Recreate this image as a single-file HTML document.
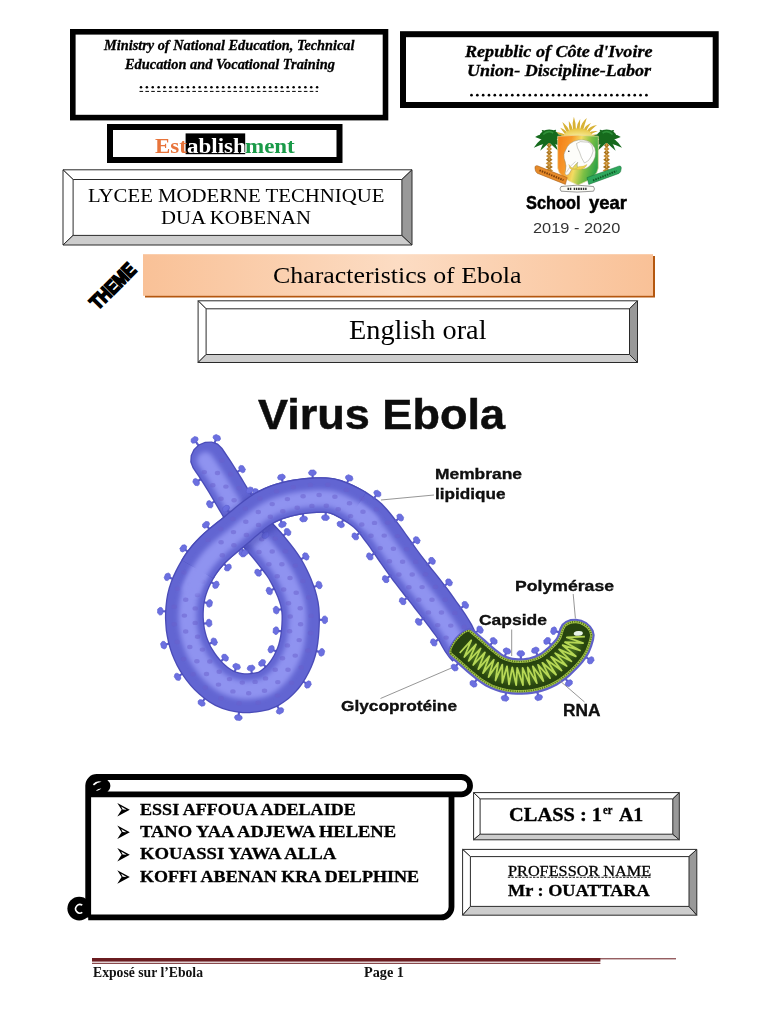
<!DOCTYPE html>
<html><head><meta charset="utf-8"><title>Characteristics of Ebola</title>
<style>
html,body{margin:0;padding:0;background:#fff}
#pg{position:relative;width:768px;height:1024px;overflow:hidden;background:#fff;font-family:"Liberation Serif",serif}
#pg svg{position:absolute;left:0;top:0}
.t{position:absolute;white-space:pre;transform-origin:0 0;display:block}
</style></head><body><div id="pg">
<svg width="768" height="1024" viewBox="0 0 768 1024">
<rect x="72.8" y="31.8" width="312.7" height="85.8" fill="#fff" stroke="#000" stroke-width="5.6"/>
<rect x="403" y="34.2" width="312.7" height="70.8" fill="#fff" stroke="#000" stroke-width="6"/>
<rect x="110" y="127" width="229.5" height="33" fill="#fff" stroke="#000" stroke-width="6"/>
<rect x="185.6" y="133.4" width="59.6" height="20.8" fill="#000"/>
<g fill="#000"><circle cx="141.00" cy="87.3" r="1.25"/><circle cx="146.87" cy="87.3" r="1.25"/><circle cx="152.74" cy="87.3" r="1.25"/><circle cx="158.61" cy="87.3" r="1.25"/><circle cx="164.48" cy="87.3" r="1.25"/><circle cx="170.35" cy="87.3" r="1.25"/><circle cx="176.22" cy="87.3" r="1.25"/><circle cx="182.09" cy="87.3" r="1.25"/><circle cx="187.96" cy="87.3" r="1.25"/><circle cx="193.83" cy="87.3" r="1.25"/><circle cx="199.70" cy="87.3" r="1.25"/><circle cx="205.57" cy="87.3" r="1.25"/><circle cx="211.44" cy="87.3" r="1.25"/><circle cx="217.31" cy="87.3" r="1.25"/><circle cx="223.18" cy="87.3" r="1.25"/><circle cx="229.05" cy="87.3" r="1.25"/><circle cx="234.92" cy="87.3" r="1.25"/><circle cx="240.79" cy="87.3" r="1.25"/><circle cx="246.66" cy="87.3" r="1.25"/><circle cx="252.53" cy="87.3" r="1.25"/><circle cx="258.40" cy="87.3" r="1.25"/><circle cx="264.27" cy="87.3" r="1.25"/><circle cx="270.14" cy="87.3" r="1.25"/><circle cx="276.01" cy="87.3" r="1.25"/><circle cx="281.88" cy="87.3" r="1.25"/><circle cx="287.75" cy="87.3" r="1.25"/><circle cx="293.62" cy="87.3" r="1.25"/><circle cx="299.49" cy="87.3" r="1.25"/><circle cx="305.36" cy="87.3" r="1.25"/><circle cx="311.23" cy="87.3" r="1.25"/><circle cx="317.10" cy="87.3" r="1.25"/></g><line x1="139.5" y1="91.4" x2="318" y2="91.4" stroke="#000" stroke-width="1" stroke-dasharray="3.6 2.27"/>
<g fill="#000"><circle cx="471.50" cy="95.2" r="1.35"/><circle cx="477.33" cy="95.2" r="1.35"/><circle cx="483.16" cy="95.2" r="1.35"/><circle cx="488.99" cy="95.2" r="1.35"/><circle cx="494.82" cy="95.2" r="1.35"/><circle cx="500.65" cy="95.2" r="1.35"/><circle cx="506.48" cy="95.2" r="1.35"/><circle cx="512.31" cy="95.2" r="1.35"/><circle cx="518.14" cy="95.2" r="1.35"/><circle cx="523.97" cy="95.2" r="1.35"/><circle cx="529.80" cy="95.2" r="1.35"/><circle cx="535.63" cy="95.2" r="1.35"/><circle cx="541.46" cy="95.2" r="1.35"/><circle cx="547.29" cy="95.2" r="1.35"/><circle cx="553.12" cy="95.2" r="1.35"/><circle cx="558.95" cy="95.2" r="1.35"/><circle cx="564.78" cy="95.2" r="1.35"/><circle cx="570.61" cy="95.2" r="1.35"/><circle cx="576.44" cy="95.2" r="1.35"/><circle cx="582.27" cy="95.2" r="1.35"/><circle cx="588.10" cy="95.2" r="1.35"/><circle cx="593.93" cy="95.2" r="1.35"/><circle cx="599.76" cy="95.2" r="1.35"/><circle cx="605.59" cy="95.2" r="1.35"/><circle cx="611.42" cy="95.2" r="1.35"/><circle cx="617.25" cy="95.2" r="1.35"/><circle cx="623.08" cy="95.2" r="1.35"/><circle cx="628.91" cy="95.2" r="1.35"/><circle cx="634.74" cy="95.2" r="1.35"/><circle cx="640.57" cy="95.2" r="1.35"/><circle cx="646.40" cy="95.2" r="1.35"/></g>
<g stroke="#2a2a2a" stroke-width="1" stroke-linejoin="miter"><polygon points="63,169.8 412,169.8 401.9,179.5 73.1,179.5" fill="#fff"/><polygon points="63,169.8 73.1,179.5 73.1,235.4 63,245" fill="#fff"/><polygon points="63,245 73.1,235.4 401.9,235.4 412,245" fill="#cdcdcd"/><polygon points="412,169.8 412,245 401.9,235.4 401.9,179.5" fill="#999"/></g>
<g stroke="#2a2a2a" stroke-width="1" stroke-linejoin="miter"><polygon points="198.1,300.8 637.5,300.8 629.5,308.8 206.1,308.8" fill="#fff"/><polygon points="198.1,300.8 206.1,308.8 206.1,354.5 198.1,362.5" fill="#fff"/><polygon points="198.1,362.5 206.1,354.5 629.5,354.5 637.5,362.5" fill="#cdcdcd"/><polygon points="637.5,300.8 637.5,362.5 629.5,354.5 629.5,308.8" fill="#999"/></g>
<g stroke="#2a2a2a" stroke-width="1" stroke-linejoin="miter"><polygon points="473.6,792.6 679.3,792.6 672.8,798.9 480.1,798.9" fill="#fff"/><polygon points="473.6,792.6 480.1,798.9 480.1,834.2 473.6,839.8" fill="#fff"/><polygon points="473.6,839.8 480.1,834.2 672.8,834.2 679.3,839.8" fill="#cdcdcd"/><polygon points="679.3,792.6 679.3,839.8 672.8,834.2 672.8,798.9" fill="#999"/></g>
<g stroke="#2a2a2a" stroke-width="1" stroke-linejoin="miter"><polygon points="462.6,849.4 696.8,849.4 689,856.6 470.4,856.6" fill="#fff"/><polygon points="462.6,849.4 470.4,856.6 470.4,906.4 462.6,915.2" fill="#fff"/><polygon points="462.6,915.2 470.4,906.4 689,906.4 696.8,915.2" fill="#cdcdcd"/><polygon points="696.8,849.4 696.8,915.2 689,906.4 689,856.6" fill="#999"/></g>
<defs><linearGradient id="og" x1="0" y1="0" x2="1" y2="0"><stop offset="0" stop-color="#f9c197"/><stop offset="0.5" stop-color="#fcdcc3"/><stop offset="1" stop-color="#f9c197"/></linearGradient></defs>
<rect x="145" y="256" width="510" height="41.5" fill="#b4570f"/><rect x="143" y="254.2" width="510" height="41.6" fill="url(#og)"/>
<g transform="translate(112.7,285.8) rotate(-45) scale(1.0,1.22)"><text x="0" y="5.7" text-anchor="middle" font-family="Liberation Sans" font-weight="bold" font-size="16" stroke="#000" stroke-width="1.5" stroke-linejoin="miter">THEME</text></g>
<g fill="none" stroke="#000" stroke-width="5.8" stroke-linejoin="round"><path d="M88.2,917.4 H441 A10.5,10.5 0 0 0 451.5,907 V794.3"/><path d="M88.2,917.4 V785.5 A8.6,8.6 0 0 1 96.8,777 H461.4 A8.65,8.65 0 0 1 461.4,794.3 H90"/></g>
<circle cx="79.2" cy="908.6" r="11.8" fill="#000"/><path d="M82.3,905.2 A4.3,4.3 0 1 0 82.3,912.4" fill="none" stroke="#fff" stroke-width="1.6"/>
<ellipse cx="100" cy="786" rx="10.4" ry="8.4" fill="#000"/><rect x="90" y="784" width="8" height="12" fill="#000"/><path d="M92.8,784.3 Q96.5,780.2 101.6,781.8 Q97,782.3 94,785.6Z" fill="#fff"/><path d="M96.3,790.2 Q98.6,788.4 101.4,788.6 Q99.4,790.6 96.6,791Z" fill="#fff"/>
<path d="M117.3,803.1 L129.8,809.8 L117.3,816.5 L121.6,809.8 Z" fill="#000"/><path d="M121.2,806.6 L126.6,809.8 L122.6,809.6Z" fill="#fff"/>
<path d="M117.3,825.5 L129.8,832.2 L117.3,838.9 L121.6,832.2 Z" fill="#000"/><path d="M121.2,829 L126.6,832.2 L122.6,832Z" fill="#fff"/>
<path d="M117.3,848 L129.8,854.7 L117.3,861.4 L121.6,854.7 Z" fill="#000"/><path d="M121.2,851.5 L126.6,854.7 L122.6,854.5Z" fill="#fff"/>
<path d="M117.3,870.3 L129.8,877 L117.3,883.7 L121.6,877 Z" fill="#000"/><path d="M121.2,873.8 L126.6,877 L122.6,876.8Z" fill="#fff"/>
<line x1="507.8" y1="877.3" x2="651.5" y2="877.3" stroke="#000" stroke-width="0.9" stroke-dasharray="2.4 1.2"/>
<rect x="92" y="958" width="508.4" height="3.6" fill="#6a1c20"/><rect x="92" y="962.8" width="508.4" height="1" fill="#6a1c20"/><rect x="600" y="958.3" width="76" height="1" fill="#6a1c20"/>
<defs><filter id="bl" x="-10%" y="-10%" width="120%" height="120%"><feGaussianBlur stdDeviation="2.6"/></filter><g id="sp"><rect x="-1.1" y="-2" width="2.2" height="6" fill="#5a5ccc"/><path d="M-3.5,3.8 L-3.9,5.8 L-2,8 L2,8 L3.9,5.8 L3.5,3.8 L1.7,2.7 L-1.7,2.7Z" fill="#6b6fe0" stroke="#5a5fd0" stroke-width="0.6"/></g><ellipse id="dt" rx="2.7" ry="2.2" fill="#6a60cc" opacity="0.5"/></defs>
<use href="#sp" transform="translate(200.6 479.3) rotate(57)"/><use href="#sp" transform="translate(214.3 501.6) rotate(59)"/><use href="#sp" transform="translate(228.0 525.3) rotate(58)"/><use href="#sp" transform="translate(246.1 550.0) rotate(47)"/><use href="#sp" transform="translate(262.2 569.5) rotate(52)"/><use href="#sp" transform="translate(274.1 588.8) rotate(65)"/><use href="#sp" transform="translate(281.4 609.3) rotate(81)"/><use href="#sp" transform="translate(281.2 631.2) rotate(-264)"/><use href="#sp" transform="translate(276.0 651.3) rotate(-246)"/><use href="#sp" transform="translate(265.6 666.8) rotate(-222)"/><use href="#sp" transform="translate(251.8 673.3) rotate(-188)"/><use href="#sp" transform="translate(234.8 671.5) rotate(-160)"/><use href="#sp" transform="translate(221.1 661.1) rotate(-131)"/><use href="#sp" transform="translate(209.3 643.8) rotate(-114)"/><use href="#sp" transform="translate(203.8 623.6) rotate(-96)"/><use href="#sp" transform="translate(204.3 602.4) rotate(-79)"/><use href="#sp" transform="translate(211.3 582.3) rotate(-61)"/><use href="#sp" transform="translate(224.1 564.0) rotate(-47)"/><use href="#sp" transform="translate(237.5 471.8) rotate(-122)"/><use href="#sp" transform="translate(251.6 494.9) rotate(-121)"/><use href="#sp" transform="translate(265.5 515.5) rotate(-128)"/><use href="#sp" transform="translate(283.5 535.3) rotate(-129)"/><use href="#sp" transform="translate(301.3 559.1) rotate(-121)"/><use href="#sp" transform="translate(314.1 586.8) rotate(-110)"/><use href="#sp" transform="translate(319.5 619.8) rotate(-90)"/><use href="#sp" transform="translate(316.5 651.1) rotate(-76)"/><use href="#sp" transform="translate(303.5 681.7) rotate(-57)"/><use href="#sp" transform="translate(277.4 706.3) rotate(-30)"/><use href="#sp" transform="translate(239.0 712.4) rotate(7)"/><use href="#sp" transform="translate(204.7 698.7) rotate(37)"/><use href="#sp" transform="translate(182.0 674.0) rotate(57)"/><use href="#sp" transform="translate(168.8 643.7) rotate(75)"/><use href="#sp" transform="translate(165.6 611.4) rotate(-268)"/><use href="#sp" transform="translate(172.3 578.8) rotate(-248)"/><use href="#sp" transform="translate(187.6 551.4) rotate(-234)"/><use href="#sp" transform="translate(209.3 528.8) rotate(-220)"/>
<use href="#sp" transform="translate(197.6 444.2) rotate(-216)"/><use href="#sp" transform="translate(214.6 442.6) rotate(-155)"/>
<path d="M192.5 468.0 195.3 472.2 198.1 476.3 200.8 480.4 203.4 484.5 205.9 488.4 208.4 492.5 210.9 496.7 213.4 501.0 215.9 505.3 218.5 509.7 221.1 514.1 223.5 518.3 226.0 522.7 228.6 527.3 231.6 532.2 234.6 536.8 238.5 542.0 242.1 546.3 245.7 550.3 248.9 553.9 251.5 557.0 254.4 560.6 257.6 564.6 260.5 568.2 263.3 571.9 266.0 575.5 268.4 579.1 270.0 582.0 272.1 585.9 274.1 589.9 275.9 593.9 277.4 597.5 278.8 601.5 280.1 605.5 280.7 608.4 281.3 612.4 281.5 615.7 281.5 619.6 281.3 624.3 281.0 628.7 280.5 633.1 279.9 636.9 279.0 641.1 278.2 644.2 276.9 648.0 275.5 651.1 273.7 654.9 271.9 657.9 270.1 660.7 267.8 663.8 266.0 665.7 263.6 667.8 260.9 670.0 258.2 671.8 258.2 671.8 255.8 672.2 250.8 672.9 247.6 673.3 244.7 673.3 242.3 672.9 238.8 672.2 235.9 671.4 233.7 670.6 231.4 669.2 228.1 666.9 225.5 664.7 223.0 662.4 220.2 659.3 217.9 656.6 215.3 653.1 213.4 650.1 211.2 646.5 209.8 643.6 208.2 639.8 207.0 636.5 205.9 632.4 205.1 629.0 204.4 624.8 204.1 621.3 203.8 617.0 203.8 613.4 204.0 609.1 204.3 605.6 204.9 601.5 205.8 597.6 206.7 594.5 208.1 590.5 209.6 587.1 211.5 583.0 213.4 579.4 215.6 575.6 217.7 572.6 220.0 569.6 222.8 566.2 225.4 563.3 228.5 560.3 231.6 557.5 235.2 554.4 238.9 551.3 242.8 548.2 246.8 544.8 250.8 541.5 254.6 538.2 258.3 535.0 261.9 532.0 265.4 529.2 268.9 526.5 272.3 524.3 275.1 522.7 278.9 520.9 282.0 519.6 286.1 518.2 290.4 517.0 294.4 516.0 298.7 515.1 303.1 514.3 307.1 513.7 311.7 513.3 316.2 512.9 320.2 512.8 324.7 512.8 327.9 513.2 329.4 513.5 333.4 515.0 336.4 516.5 340.3 518.6 343.6 520.7 347.4 523.2 350.9 525.7 353.5 527.8 356.3 530.4 358.4 532.8 360.8 536.0 363.7 540.0 366.8 544.1 369.4 547.6 372.0 551.4 374.8 555.5 377.8 559.9 380.7 563.9 383.5 568.0 386.5 572.2 389.6 576.5 392.6 580.7 395.8 584.8 399.0 589.0 402.1 592.9 405.2 596.9 408.3 600.7 411.3 604.6 414.2 608.4 417.2 612.3 420.2 616.1 423.2 620.0 426.2 623.9 429.1 627.8 432.0 631.7 434.9 635.6 437.4 639.1 439.3 642.3 441.3 646.0 444.5 651.6 449.1 657.9 452.5 661.7 480.5 638.3 477.4 634.5 476.2 632.7 474.6 629.5 472.1 624.3 468.9 618.9 465.8 614.1 462.9 609.8 460.0 605.6 457.0 601.4 454.1 597.2 451.1 593.1 448.2 589.0 445.0 584.9 441.8 580.8 438.7 576.8 435.5 572.8 432.4 568.9 429.3 565.0 426.3 561.3 423.4 557.5 420.5 553.7 417.7 549.9 414.9 545.9 412.0 541.8 409.1 537.7 406.3 533.9 403.4 529.7 400.3 525.4 396.9 520.9 393.9 517.1 390.7 513.1 386.9 508.6 382.2 503.6 377.5 499.6 372.1 495.7 367.4 492.6 362.6 489.8 357.3 486.9 352.2 484.4 346.2 481.9 340.7 479.9 332.5 478.0 325.8 477.3 320.3 477.3 314.3 477.4 308.8 477.7 303.4 478.2 297.6 478.9 292.1 479.8 286.6 480.8 280.9 482.2 275.5 483.8 270.2 485.6 264.1 488.1 258.8 490.6 252.9 493.9 248.0 497.2 243.4 500.5 239.1 503.9 235.0 507.2 231.1 510.5 227.2 513.7 223.5 516.8 219.8 519.7 215.9 522.8 211.9 526.0 207.8 529.4 203.4 533.3 199.3 537.2 195.1 541.6 191.4 545.8 187.5 550.7 183.9 555.8 181.0 560.6 178.0 565.7 175.5 570.6 172.8 576.3 170.7 581.7 168.6 588.1 167.1 593.9 166.1 599.7 165.4 606.2 165.0 611.8 164.9 618.2 165.2 623.9 165.7 630.4 166.6 636.0 167.9 642.4 169.4 648.0 171.5 654.2 173.7 659.6 176.6 665.7 179.4 670.7 182.8 676.1 186.2 680.8 190.2 685.8 194.1 690.1 198.9 694.6 204.0 698.8 208.8 702.3 215.1 706.0 222.2 709.0 228.9 711.0 235.2 712.3 242.6 713.2 249.7 713.2 256.5 712.5 261.4 711.8 268.8 710.3 278.0 706.5 283.7 702.8 288.9 698.9 294.0 694.3 298.9 688.9 302.6 684.0 306.2 678.3 309.3 672.6 311.7 667.4 314.2 661.2 316.0 655.5 317.5 648.9 318.4 643.3 319.1 637.1 319.5 631.7 319.8 626.0 320.0 620.7 319.9 614.7 319.5 608.0 318.7 602.1 317.2 595.2 315.6 589.6 313.7 584.2 311.5 578.5 309.3 573.4 306.9 568.4 304.3 563.4 301.0 557.7 297.8 553.0 294.6 548.5 291.3 544.2 287.9 540.0 284.8 536.2 281.4 532.1 277.4 527.7 273.8 524.0 270.6 520.7 267.6 517.4 265.4 514.7 262.8 511.1 260.4 507.6 257.8 503.6 255.1 499.4 252.3 495.1 249.7 490.9 247.2 486.7 244.6 482.5 242.0 478.1 239.3 473.8 236.5 469.4 233.7 464.9 230.9 460.6 228.0 456.3 225.2 452.1 222.5 448.0 217.9 443.6 211.8 441.4 205.0 441.7 198.5 444.5 193.5 449.3 190.6 455.5 190.2 462.0Z" fill="#4a4cb8"/><path d="M193.6 467.2 196.4 471.5 199.2 475.6 201.9 479.7 204.5 483.8 207.0 487.7 209.5 491.8 212.0 496.1 214.5 500.3 217.0 504.7 219.6 509.0 222.2 513.4 224.6 517.7 227.1 522.1 229.7 526.6 232.7 531.4 235.7 536.1 239.5 541.2 243.1 545.4 246.6 549.4 249.9 553.0 252.5 556.1 255.5 559.8 258.6 563.8 261.6 567.4 264.4 571.1 267.0 574.7 269.4 578.4 271.2 581.4 273.3 585.3 275.3 589.3 277.1 593.4 278.6 597.0 280.1 601.1 281.3 605.2 282.0 608.2 282.6 612.2 282.8 615.6 282.8 619.7 282.6 624.4 282.3 628.8 281.8 633.3 281.2 637.1 280.3 641.4 279.4 644.6 278.1 648.5 276.7 651.6 274.8 655.5 273.0 658.6 271.2 661.5 268.8 664.6 266.9 666.6 264.5 668.9 261.6 671.1 258.8 672.9 258.5 673.0 255.9 673.5 251.0 674.2 247.7 674.6 244.7 674.6 242.1 674.2 238.4 673.5 235.5 672.6 233.1 671.7 230.7 670.3 227.3 667.9 224.6 665.7 222.1 663.3 219.2 660.2 216.9 657.4 214.3 653.9 212.3 650.8 210.1 647.1 208.6 644.1 207.0 640.2 205.8 636.9 204.6 632.7 203.8 629.2 203.1 625.0 202.8 621.4 202.5 617.0 202.5 613.3 202.7 609.0 203.0 605.4 203.7 601.2 204.5 597.2 205.4 594.1 206.9 590.0 208.4 586.5 210.3 582.4 212.3 578.8 214.5 574.9 216.7 571.8 219.0 568.7 221.8 565.3 224.5 562.4 227.6 559.3 230.7 556.5 234.4 553.4 238.1 550.3 242.0 547.2 246.0 543.8 249.9 540.5 253.7 537.2 257.4 534.0 261.1 531.0 264.6 528.1 268.2 525.5 271.6 523.2 274.5 521.5 278.3 519.7 281.6 518.3 285.7 516.9 290.1 515.7 294.1 514.7 298.4 513.8 302.9 513.0 307.0 512.4 311.6 512.0 316.1 511.6 320.2 511.5 324.7 511.5 328.1 511.9 329.9 512.3 333.8 513.7 337.0 515.3 340.9 517.5 344.3 519.6 348.1 522.1 351.7 524.7 354.3 526.8 357.2 529.5 359.3 531.9 361.9 535.2 364.8 539.2 367.9 543.3 370.4 546.8 373.1 550.7 375.9 554.8 378.9 559.1 381.7 563.2 384.6 567.3 387.5 571.4 390.6 575.7 393.7 579.9 396.8 584.0 400.0 588.2 403.2 592.1 406.2 596.1 409.3 599.9 412.3 603.8 415.3 607.6 418.2 611.5 421.2 615.4 424.2 619.3 427.2 623.2 430.2 627.1 433.1 631.0 436.0 634.9 438.4 638.4 440.5 641.6 442.5 645.4 445.6 651.0 450.1 657.1 453.5 660.8 479.5 639.2 476.4 635.3 475.1 633.3 473.5 630.1 470.9 625.0 467.8 619.6 464.7 614.8 461.8 610.6 458.9 606.3 456.0 602.2 453.0 598.0 450.1 593.9 447.1 589.8 444.0 585.7 440.8 581.6 437.6 577.6 434.5 573.6 431.3 569.7 428.3 565.9 425.3 562.1 422.4 558.3 419.5 554.5 416.7 550.6 413.8 546.7 410.9 542.6 408.0 538.5 405.2 534.6 402.4 530.5 399.3 526.2 395.9 521.7 392.9 517.9 389.7 513.9 385.9 509.4 381.3 504.6 376.7 500.6 371.3 496.7 366.6 493.7 361.9 490.9 356.7 488.1 351.7 485.6 345.7 483.1 340.3 481.1 332.4 479.2 325.8 478.6 320.3 478.6 314.4 478.7 309.0 479.0 303.6 479.5 297.8 480.2 292.4 481.1 286.9 482.1 281.2 483.5 275.9 485.0 270.6 486.8 264.6 489.2 259.4 491.8 253.6 495.0 248.7 498.2 244.2 501.5 239.9 504.9 235.8 508.2 231.9 511.5 228.1 514.7 224.3 517.8 220.6 520.7 216.7 523.8 212.7 527.0 208.7 530.4 204.3 534.2 200.2 538.1 196.0 542.5 192.4 546.6 188.6 551.4 185.0 556.5 182.1 561.2 179.2 566.3 176.7 571.2 174.1 576.8 171.9 582.1 169.8 588.5 168.4 594.2 167.4 599.9 166.7 606.3 166.3 611.9 166.2 618.2 166.5 623.8 167.0 630.2 167.9 635.8 169.2 642.1 170.7 647.6 172.7 653.7 174.8 659.1 177.7 665.1 180.5 670.0 183.9 675.4 187.2 680.0 191.2 684.9 195.1 689.2 199.8 693.6 204.8 697.8 209.6 701.2 215.7 704.8 222.6 707.8 229.2 709.7 235.4 711.0 242.7 711.9 249.7 711.9 256.3 711.2 261.3 710.5 268.5 709.1 277.4 705.3 283.0 701.7 288.1 697.9 293.0 693.4 297.9 688.1 301.6 683.2 305.0 677.7 308.1 672.0 310.5 666.9 312.9 660.8 314.7 655.1 316.2 648.7 317.1 643.1 317.8 637.0 318.2 631.6 318.5 625.9 318.7 620.7 318.6 614.7 318.2 608.1 317.4 602.3 315.9 595.5 314.3 590.0 312.5 584.7 310.3 579.0 308.1 573.9 305.7 569.0 303.2 564.0 299.9 558.4 296.7 553.7 293.5 549.3 290.2 545.0 286.9 540.9 283.8 537.0 280.4 533.0 276.4 528.6 272.9 524.9 269.6 521.5 266.6 518.2 264.4 515.4 261.7 511.8 259.3 508.3 256.6 504.2 254.0 500.1 251.2 495.7 248.6 491.6 246.0 487.4 243.5 483.1 240.8 478.8 238.2 474.5 235.4 470.1 232.6 465.6 229.8 461.3 226.9 457.0 224.1 452.9 221.4 448.8 217.2 444.7 211.5 442.6 205.1 442.9 199.2 445.5 194.5 450.0 191.8 455.7 191.5 461.8Z" fill="#6265d2"/><path d="M197.9 464.4 200.7 468.6 203.5 472.7 206.2 476.8 208.9 480.9 211.5 484.9 214.0 489.1 216.5 493.3 219.1 497.6 221.6 501.9 224.2 506.3 226.8 510.6 229.3 514.9 231.8 519.2 234.5 523.6 237.4 528.3 240.4 532.7 244.0 537.4 247.4 541.5 250.9 545.4 254.2 549.0 257.1 552.3 260.2 556.0 263.3 560.0 266.3 563.7 269.2 567.5 271.9 571.2 274.5 575.0 276.5 578.5 278.7 582.6 280.7 586.8 282.6 591.0 284.2 595.0 285.7 599.3 287.0 603.6 287.8 607.2 288.4 611.6 288.6 615.5 288.7 619.8 288.5 624.7 288.2 629.2 287.7 633.9 287.2 638.1 286.3 642.6 285.3 646.4 283.9 650.5 282.4 654.2 280.4 658.3 278.4 661.8 276.3 665.2 273.7 668.6 271.3 671.1 268.4 673.7 265.2 676.2 261.9 678.4 260.2 679.1 256.8 679.7 251.9 680.5 248.0 680.9 244.3 680.9 240.9 680.4 236.9 679.6 233.3 678.5 230.2 677.3 227.1 675.5 223.5 672.9 220.4 670.4 217.5 667.6 214.5 664.3 211.9 661.2 209.2 657.5 206.9 654.0 204.7 650.1 202.9 646.6 201.2 642.5 199.9 638.7 198.7 634.3 197.9 630.3 197.1 625.8 196.7 621.8 196.5 617.2 196.5 613.1 196.8 608.5 197.1 604.5 197.9 600.1 198.8 595.8 200.0 592.1 201.6 587.9 203.2 584.0 205.3 579.8 207.4 575.9 209.8 572.0 212.1 568.5 214.7 565.2 217.7 561.7 220.6 558.5 223.9 555.3 227.2 552.4 230.9 549.2 234.7 546.1 238.6 543.0 242.6 539.7 246.5 536.4 250.3 533.1 254.0 530.0 257.8 526.9 261.4 524.0 265.1 521.2 268.8 518.8 272.2 516.9 276.2 514.9 279.9 513.4 284.2 511.9 288.7 510.7 293.0 509.6 297.5 508.7 302.1 507.9 306.5 507.3 311.2 506.8 315.8 506.5 320.2 506.4 324.9 506.4 328.7 506.8 331.5 507.5 335.7 509.0 339.3 510.7 343.3 512.9 347.1 515.1 351.0 517.6 354.8 520.2 357.9 522.6 361.0 525.5 363.6 528.3 366.4 531.8 369.3 535.7 372.4 539.8 375.1 543.5 377.9 547.4 380.7 551.5 383.6 555.7 386.5 559.8 389.4 563.9 392.3 568.0 395.3 572.2 398.4 576.3 401.5 580.4 404.7 584.5 407.8 588.4 410.9 592.4 414.0 596.3 417.0 600.1 420.0 604.0 423.0 607.9 426.0 611.8 429.0 615.8 431.9 619.7 434.9 623.7 437.8 627.7 440.6 631.6 443.2 635.4 445.4 639.0 447.5 642.9 450.3 648.1 454.3 653.6 457.6 657.4 470.5 646.7 467.3 642.9 464.9 639.4 462.8 635.4 460.4 630.7 457.7 626.1 454.8 621.7 451.9 617.6 449.0 613.5 446.1 609.4 443.2 605.3 440.2 601.2 437.2 597.2 434.2 593.2 431.1 589.2 427.9 585.2 424.8 581.3 421.7 577.4 418.6 573.5 415.6 569.6 412.5 565.7 409.6 561.7 406.7 557.8 403.8 553.7 400.9 549.6 398.0 545.6 395.2 541.5 392.3 537.4 389.4 533.3 386.3 529.1 383.2 525.2 380.1 521.2 376.8 517.2 372.9 513.2 368.9 509.6 364.5 506.4 360.2 503.6 355.8 500.9 351.2 498.3 346.5 496.0 341.6 493.8 336.7 492.0 330.9 490.6 325.4 490.1 320.3 490.0 315.0 490.2 309.9 490.5 304.8 491.0 299.6 491.6 294.5 492.4 289.4 493.5 284.3 494.7 279.3 496.1 274.4 497.8 269.4 499.8 264.7 502.1 259.9 504.8 255.5 507.7 251.3 510.8 247.3 513.9 243.3 517.2 239.5 520.4 235.7 523.6 231.8 526.8 228.0 529.9 224.1 533.0 220.2 536.2 216.3 539.4 212.4 542.9 208.6 546.5 204.9 550.3 201.6 554.2 198.3 558.5 195.2 562.9 192.5 567.3 189.9 571.9 187.6 576.5 185.3 581.3 183.4 586.2 181.7 591.5 180.5 596.6 179.6 601.8 179.0 607.2 178.7 612.4 178.6 617.8 178.9 623.0 179.4 628.4 180.2 633.6 181.3 638.9 182.6 643.9 184.3 649.1 186.3 654.0 188.7 659.0 191.3 663.5 194.2 668.1 197.3 672.3 200.7 676.5 204.2 680.4 208.2 684.1 212.4 687.7 216.7 690.7 221.6 693.6 227.0 695.8 232.4 697.4 237.7 698.5 243.4 699.3 249.0 699.3 254.5 698.7 259.5 697.9 265.1 696.8 271.1 694.3 275.7 691.3 280.0 688.0 284.2 684.3 288.0 680.1 291.2 675.8 294.2 671.2 296.8 666.4 299.0 661.7 301.1 656.6 302.7 651.5 304.0 646.2 304.9 641.0 305.5 635.7 305.9 630.6 306.2 625.4 306.4 620.3 306.4 615.0 306.0 609.5 305.3 604.3 304.1 598.8 302.6 593.8 300.9 588.9 298.9 583.9 296.9 579.2 294.6 574.5 292.3 570.0 289.5 565.2 286.6 560.9 283.6 556.7 280.4 552.7 277.3 548.7 274.1 544.8 270.9 540.9 267.3 537.0 263.9 533.3 260.5 529.7 257.3 526.1 254.5 522.5 251.7 518.6 249.1 514.6 246.4 510.4 243.8 506.1 241.2 501.9 238.6 497.6 236.0 493.4 233.4 489.1 230.8 484.8 228.2 480.5 225.6 476.2 222.8 471.9 220.1 467.7 217.3 463.5 214.5 459.3 211.7 455.2 209.6 453.2 206.8 452.1 203.7 452.3 200.7 453.6 198.4 455.8 197.0 458.6 196.9 461.6Z" fill="#8f93f0" filter="url(#bl)"/>
<use href="#dt" x="221.8" y="460.5"/><use href="#dt" x="217.5" y="473.0"/><use href="#dt" x="204.3" y="472.1"/><use href="#dt" x="230.7" y="474.2"/><use href="#dt" x="225.9" y="486.6"/><use href="#dt" x="212.8" y="485.3"/><use href="#dt" x="239.0" y="488.1"/><use href="#dt" x="234.1" y="500.3"/><use href="#dt" x="221.0" y="498.8"/><use href="#dt" x="247.3" y="501.7"/><use href="#dt" x="242.4" y="514.0"/><use href="#dt" x="229.3" y="512.5"/><use href="#dt" x="255.5" y="515.1"/><use href="#dt" x="251.2" y="527.3"/><use href="#dt" x="237.8" y="526.5"/><use href="#dt" x="264.2" y="526.4"/><use href="#dt" x="261.8" y="539.3"/><use href="#dt" x="248.6" y="540.5"/><use href="#dt" x="275.2" y="538.6"/><use href="#dt" x="272.2" y="551.5"/><use href="#dt" x="259.0" y="552.0"/><use href="#dt" x="285.4" y="551.3"/><use href="#dt" x="281.9" y="564.2"/><use href="#dt" x="268.9" y="564.2"/><use href="#dt" x="295.2" y="565.6"/><use href="#dt" x="290.0" y="578.0"/><use href="#dt" x="277.2" y="576.3"/><use href="#dt" x="302.9" y="581.1"/><use href="#dt" x="296.2" y="592.7"/><use href="#dt" x="283.7" y="589.5"/><use href="#dt" x="308.7" y="597.5"/><use href="#dt" x="300.2" y="608.2"/><use href="#dt" x="288.5" y="603.2"/><use href="#dt" x="311.2" y="615.9"/><use href="#dt" x="300.6" y="624.2"/><use href="#dt" x="290.2" y="616.5"/><use href="#dt" x="310.6" y="633.0"/><use href="#dt" x="299.2" y="640.1"/><use href="#dt" x="289.6" y="631.3"/><use href="#dt" x="307.8" y="650.4"/><use href="#dt" x="295.2" y="655.6"/><use href="#dt" x="287.4" y="645.4"/><use href="#dt" x="301.3" y="667.5"/><use href="#dt" x="288.0" y="669.8"/><use href="#dt" x="282.5" y="658.2"/><use href="#dt" x="291.5" y="682.9"/><use href="#dt" x="277.8" y="682.1"/><use href="#dt" x="275.2" y="669.8"/><use href="#dt" x="277.5" y="695.6"/><use href="#dt" x="264.5" y="690.8"/><use href="#dt" x="265.5" y="678.4"/><use href="#dt" x="258.2" y="702.7"/><use href="#dt" x="248.7" y="693.3"/><use href="#dt" x="255.1" y="681.9"/><use href="#dt" x="239.1" y="703.3"/><use href="#dt" x="232.9" y="691.4"/><use href="#dt" x="242.3" y="682.6"/><use href="#dt" x="221.1" y="698.3"/><use href="#dt" x="218.5" y="684.6"/><use href="#dt" x="229.5" y="679.1"/><use href="#dt" x="205.2" y="687.5"/><use href="#dt" x="206.5" y="674.0"/><use href="#dt" x="219.2" y="671.8"/><use href="#dt" x="193.1" y="674.2"/><use href="#dt" x="196.9" y="661.3"/><use href="#dt" x="209.8" y="661.5"/><use href="#dt" x="183.6" y="659.0"/><use href="#dt" x="189.8" y="647.0"/><use href="#dt" x="202.4" y="649.6"/><use href="#dt" x="177.2" y="642.0"/><use href="#dt" x="185.7" y="631.5"/><use href="#dt" x="197.6" y="636.7"/><use href="#dt" x="174.2" y="624.3"/><use href="#dt" x="184.4" y="615.6"/><use href="#dt" x="195.2" y="622.9"/><use href="#dt" x="174.2" y="606.8"/><use href="#dt" x="185.7" y="599.7"/><use href="#dt" x="195.2" y="608.4"/><use href="#dt" x="177.4" y="588.8"/><use href="#dt" x="190.1" y="584.3"/><use href="#dt" x="197.5" y="595.0"/><use href="#dt" x="183.9" y="572.5"/><use href="#dt" x="197.2" y="570.0"/><use href="#dt" x="202.8" y="581.6"/><use href="#dt" x="192.7" y="557.4"/><use href="#dt" x="206.3" y="556.9"/><use href="#dt" x="210.2" y="569.1"/><use href="#dt" x="204.2" y="543.5"/><use href="#dt" x="217.4" y="545.4"/><use href="#dt" x="219.1" y="558.4"/>
<use href="#sp" transform="translate(241.6 548.5) rotate(-39)"/><use href="#sp" transform="translate(262.2 531.1) rotate(-39)"/><use href="#sp" transform="translate(280.5 519.6) rotate(-22)"/><use href="#sp" transform="translate(302.8 513.8) rotate(-9)"/><use href="#sp" transform="translate(325.8 512.4) rotate(4)"/><use href="#sp" transform="translate(343.3 519.9) rotate(30)"/><use href="#sp" transform="translate(359.3 533.1) rotate(50)"/><use href="#sp" transform="translate(374.1 553.5) rotate(55)"/><use href="#sp" transform="translate(389.9 576.1) rotate(54)"/><use href="#sp" transform="translate(406.8 598.0) rotate(52)"/><use href="#sp" transform="translate(422.9 618.8) rotate(54)"/><use href="#sp" transform="translate(438.2 639.6) rotate(57)"/><use href="#sp" transform="translate(229.4 512.6) rotate(-220)"/><use href="#sp" transform="translate(252.6 494.7) rotate(-213)"/><use href="#sp" transform="translate(282.7 482.3) rotate(-194)"/><use href="#sp" transform="translate(312.7 478.0) rotate(-183)"/><use href="#sp" transform="translate(347.1 482.8) rotate(-156)"/><use href="#sp" transform="translate(374.3 497.8) rotate(-143)"/><use href="#sp" transform="translate(396.1 520.7) rotate(-128)"/><use href="#sp" transform="translate(412.4 543.2) rotate(-125)"/><use href="#sp" transform="translate(427.9 564.1) rotate(-128)"/><use href="#sp" transform="translate(444.8 585.5) rotate(-127)"/><use href="#sp" transform="translate(461.0 607.9) rotate(-125)"/><use href="#sp" transform="translate(475.5 632.4) rotate(-121)"/>
<use href="#sp" transform="translate(458.0 663.6) rotate(41)"/><use href="#sp" transform="translate(476.7 679.7) rotate(39)"/><use href="#sp" transform="translate(506.0 693.1) rotate(11)"/><use href="#sp" transform="translate(537.4 692.4) rotate(-14)"/><use href="#sp" transform="translate(565.7 679.0) rotate(-38)"/><use href="#sp" transform="translate(586.3 657.5) rotate(-57)"/><use href="#sp" transform="translate(490.3 644.9) rotate(-139)"/><use href="#sp" transform="translate(504.9 655.9) rotate(-157)"/><use href="#sp" transform="translate(520.9 658.8) rotate(-181)"/><use href="#sp" transform="translate(537.4 655.1) rotate(-204)"/><use href="#sp" transform="translate(550.9 644.6) rotate(-226)"/><use href="#sp" transform="translate(558.8 632.1) rotate(-255)"/>
<clipPath id="ca"><path d="M192.5 468.0 195.3 472.2 198.1 476.3 200.8 480.4 203.4 484.5 205.9 488.4 208.4 492.5 210.9 496.7 213.4 501.0 215.9 505.3 218.5 509.7 221.1 514.1 223.5 518.3 226.0 522.7 228.6 527.3 231.6 532.2 234.6 536.8 238.5 542.0 242.1 546.3 245.7 550.3 248.9 553.9 251.5 557.0 254.4 560.6 257.6 564.6 260.5 568.2 263.3 571.9 266.0 575.5 268.4 579.1 270.0 582.0 272.1 585.9 274.1 589.9 275.9 593.9 277.4 597.5 278.8 601.5 280.1 605.5 280.7 608.4 281.3 612.4 281.5 615.7 281.5 619.6 281.3 624.3 281.0 628.7 280.5 633.1 279.9 636.9 279.0 641.1 278.2 644.2 276.9 648.0 275.5 651.1 273.7 654.9 271.9 657.9 270.1 660.7 267.8 663.8 266.0 665.7 263.6 667.8 260.9 670.0 258.2 671.8 258.2 671.8 255.8 672.2 250.8 672.9 247.6 673.3 244.7 673.3 242.3 672.9 238.8 672.2 235.9 671.4 233.7 670.6 231.4 669.2 228.1 666.9 225.5 664.7 223.0 662.4 220.2 659.3 217.9 656.6 215.3 653.1 213.4 650.1 211.2 646.5 209.8 643.6 208.2 639.8 207.0 636.5 205.9 632.4 205.1 629.0 204.4 624.8 204.1 621.3 203.8 617.0 203.8 613.4 204.0 609.1 204.3 605.6 204.9 601.5 205.8 597.6 206.3 595.6 170.3 582.7 168.6 588.1 167.1 593.9 166.1 599.7 165.4 606.2 165.0 611.8 164.9 618.2 165.2 623.9 165.7 630.4 166.6 636.0 167.9 642.4 169.4 648.0 171.5 654.2 173.7 659.6 176.6 665.7 179.4 670.7 182.8 676.1 186.2 680.8 190.2 685.8 194.1 690.1 198.9 694.6 204.0 698.8 208.8 702.3 215.1 706.0 222.2 709.0 228.9 711.0 235.2 712.3 242.6 713.2 249.7 713.2 256.5 712.5 261.4 711.8 268.8 710.3 278.0 706.5 283.7 702.8 288.9 698.9 294.0 694.3 298.9 688.9 302.6 684.0 306.2 678.3 309.3 672.6 311.7 667.4 314.2 661.2 316.0 655.5 317.5 648.9 318.4 643.3 319.1 637.1 319.5 631.7 319.8 626.0 320.0 620.7 319.9 614.7 319.5 608.0 318.7 602.1 317.2 595.2 315.6 589.6 313.7 584.2 311.5 578.5 309.3 573.4 306.9 568.4 304.3 563.4 301.0 557.7 297.8 553.0 294.6 548.5 291.3 544.2 287.9 540.0 284.8 536.2 281.4 532.1 277.4 527.7 273.8 524.0 270.6 520.7 267.6 517.4 265.4 514.7 262.8 511.1 260.4 507.6 257.8 503.6 255.1 499.4 252.3 495.1 249.7 490.9 247.2 486.7 244.6 482.5 242.0 478.1 239.3 473.8 236.5 469.4 233.7 464.9 230.9 460.6 228.0 456.3 225.2 452.1 222.5 448.0 217.9 443.6 211.8 441.4 205.0 441.7 198.5 444.5 193.5 449.3 190.6 455.5 190.2 462.0Z"/></clipPath>
<g clip-path="url(#ca)"><path d="M229.2 567.8 232.2 564.9 235.2 562.2 238.7 559.2 242.5 556.1 246.4 552.9 250.4 549.6 254.4 546.2 258.2 542.9 261.8 539.8 265.4 536.8 268.9 534.0 272.4 531.5 274.7 529.9 278.2 528.0 281.9 526.3 284.8 525.1 288.8 523.8 292.6 522.8 296.9 521.7 301.0 520.9 304.8 520.2 309.3 519.6 313.7 519.2 318.2 518.9 320.6 518.8 319.6 477.3 316.0 477.4 310.5 477.7 305.0 478.1 299.5 478.8 293.4 479.7 287.8 480.7 282.3 482.0 276.5 483.7 271.0 485.5 264.6 488.0 259.2 490.5 254.0 493.4 247.9 497.2 243.2 500.6 238.9 504.0 234.7 507.3 230.8 510.6 226.9 513.8 223.2 516.9 219.5 519.9 215.6 523.0 211.6 526.2 207.5 529.5 203.0 533.5 198.8 537.5Z" fill="#3a3ca8" opacity="0.45" filter="url(#bl)"/></g>
<path d="M213.8 578.7 215.7 575.4 218.2 571.9 220.5 568.9 223.0 565.9 226.0 562.7 229.2 559.7 232.2 557.0 235.8 553.9 239.6 550.8 243.5 547.6 247.5 544.2 251.4 540.9 255.2 537.6 258.9 534.5 262.5 531.5 266.1 528.6 269.6 526.0 272.2 524.3 275.9 522.3 279.6 520.5 282.8 519.3 286.9 517.9 290.8 516.8 295.2 515.8 299.5 514.9 303.4 514.2 308.0 513.6 312.5 513.2 317.0 512.9 321.0 512.8 324.8 512.8 327.6 513.1 330.2 513.8 333.4 515.0 337.2 516.9 341.0 519.1 344.3 521.2 346.4 522.5 366.4 492.0 363.3 490.2 358.0 487.3 353.0 484.8 347.7 482.5 341.5 480.1 334.5 478.3 327.4 477.4 321.2 477.3 315.2 477.3 309.7 477.6 304.3 478.1 298.9 478.7 293.0 479.6 287.4 480.7 282.1 481.9 276.3 483.5 271.0 485.3 264.8 487.7 259.6 490.2 254.5 493.0 248.7 496.7 244.1 500.0 239.8 503.3 235.7 506.6 231.7 509.9 227.9 513.1 224.1 516.2 220.4 519.2 216.5 522.3 212.5 525.5 208.5 528.8 204.0 532.7 199.9 536.6 196.0 540.6 191.9 545.1 188.0 550.0 184.7 554.6 181.4 559.9Z" fill="#4a4cb8"/><path d="M212.7 578.0 214.7 574.7 217.1 571.1 219.5 568.1 222.1 565.0 225.1 561.8 228.3 558.7 231.4 556.0 235.0 552.9 238.8 549.8 242.7 546.6 246.7 543.2 250.6 539.9 254.4 536.6 258.1 533.5 261.7 530.5 265.3 527.6 268.9 525.0 271.6 523.2 275.3 521.1 279.1 519.3 282.4 518.0 286.6 516.7 290.5 515.6 294.9 514.5 299.3 513.6 303.3 513.0 307.8 512.4 312.4 511.9 317.0 511.6 321.0 511.5 324.9 511.5 327.8 511.9 330.7 512.6 333.9 513.8 337.8 515.7 341.6 517.9 345.0 520.1 347.1 521.4 365.7 493.1 362.7 491.3 357.4 488.4 352.4 486.0 347.2 483.7 341.1 481.4 334.3 479.6 327.3 478.7 321.2 478.6 315.2 478.6 309.8 478.9 304.4 479.4 299.0 480.0 293.2 480.9 287.7 481.9 282.4 483.2 276.7 484.8 271.4 486.5 265.4 488.9 260.2 491.4 255.1 494.1 249.4 497.7 244.9 501.0 240.6 504.3 236.5 507.6 232.5 510.9 228.7 514.1 225.0 517.2 221.2 520.2 217.4 523.3 213.4 526.5 209.3 529.8 204.9 533.6 200.8 537.5 196.9 541.5 192.9 546.0 189.1 550.8 185.8 555.3 182.5 560.5Z" fill="#6265d2"/><path d="M198.9 595.6 200.3 591.3 201.7 587.5 203.6 583.3 205.6 579.3 207.8 575.2 210.0 571.6 212.6 567.8 215.2 564.5 218.1 561.2 221.2 557.9 224.5 554.7 227.9 551.8 231.6 548.7 235.4 545.6 239.3 542.4 243.2 539.1 247.1 535.8 250.9 532.6 254.7 529.4 258.4 526.4 262.1 523.4 265.8 520.7 269.0 518.7 272.9 516.5 277.0 514.6 280.7 513.1 285.0 511.7 289.3 510.5 293.8 509.4 298.3 508.5 302.6 507.8 307.3 507.2 312.0 506.8 316.7 506.5 321.0 506.4 325.3 506.5 328.8 506.9 332.3 507.8 336.0 509.2 340.0 511.1 344.1 513.3 347.8 515.5 351.7 518.1 355.5 520.7 358.5 523.2 361.7 526.1 364.2 529.0 365.8 531.0 379.3 520.3 377.3 517.8 373.6 513.8 369.6 510.2 365.2 506.9 360.9 504.0 356.5 501.3 351.9 498.7 347.3 496.3 342.6 494.2 337.5 492.3 332.0 490.8 326.5 490.2 321.1 490.0 315.8 490.1 310.7 490.4 305.6 490.9 300.5 491.5 295.3 492.3 290.2 493.3 285.2 494.5 280.1 495.9 275.2 497.5 270.2 499.5 265.4 501.7 260.8 504.2 256.2 507.2 252.0 510.3 247.9 513.4 244.0 516.6 240.1 519.8 236.3 523.1 232.5 526.2 228.7 529.4 224.8 532.5 220.9 535.6 216.9 538.9 213.0 542.3 209.2 545.9 205.6 549.6 202.1 553.6 198.8 557.8 195.8 562.0 192.9 566.6 190.4 571.0 187.9 575.7 185.7 580.4 183.7 585.4 182.0 590.4Z" fill="#8f93f0" filter="url(#bl)"/>
<use href="#dt" x="208.0" y="539.9"/><use href="#dt" x="221.1" y="542.2"/><use href="#dt" x="222.3" y="555.2"/><use href="#dt" x="220.7" y="529.0"/><use href="#dt" x="233.5" y="532.1"/><use href="#dt" x="233.9" y="545.3"/><use href="#dt" x="232.9" y="519.0"/><use href="#dt" x="245.8" y="521.8"/><use href="#dt" x="246.4" y="535.0"/><use href="#dt" x="245.3" y="508.6"/><use href="#dt" x="258.3" y="512.0"/><use href="#dt" x="258.5" y="524.9"/><use href="#dt" x="259.9" y="498.5"/><use href="#dt" x="272.2" y="504.1"/><use href="#dt" x="270.3" y="516.8"/><use href="#dt" x="276.6" y="491.3"/><use href="#dt" x="287.4" y="499.1"/><use href="#dt" x="282.8" y="511.3"/><use href="#dt" x="293.3" y="487.1"/><use href="#dt" x="303.1" y="496.2"/><use href="#dt" x="297.2" y="507.8"/><use href="#dt" x="310.3" y="484.9"/><use href="#dt" x="319.1" y="495.0"/><use href="#dt" x="311.9" y="505.9"/><use href="#dt" x="327.9" y="484.7"/><use href="#dt" x="334.9" y="496.7"/><use href="#dt" x="326.3" y="505.7"/><use href="#dt" x="346.6" y="489.9"/><use href="#dt" x="349.5" y="503.2"/><use href="#dt" x="338.2" y="509.2"/><use href="#dt" x="362.1" y="498.5"/><use href="#dt" x="363.0" y="511.8"/><use href="#dt" x="350.6" y="516.1"/><use href="#dt" x="376.4" y="509.4"/><use href="#dt" x="374.5" y="522.9"/><use href="#dt" x="361.8" y="524.5"/><use href="#dt" x="387.6" y="522.8"/><use href="#dt" x="384.2" y="535.6"/><use href="#dt" x="371.0" y="535.7"/><use href="#dt" x="397.4" y="536.1"/><use href="#dt" x="393.4" y="548.7"/><use href="#dt" x="380.2" y="548.1"/><use href="#dt" x="406.6" y="549.2"/><use href="#dt" x="402.6" y="561.7"/><use href="#dt" x="389.4" y="561.3"/><use href="#dt" x="415.7" y="561.9"/><use href="#dt" x="412.2" y="574.5"/><use href="#dt" x="398.9" y="574.5"/><use href="#dt" x="425.4" y="574.3"/><use href="#dt" x="422.1" y="587.1"/><use href="#dt" x="408.9" y="587.3"/><use href="#dt" x="435.4" y="586.9"/><use href="#dt" x="432.0" y="599.7"/><use href="#dt" x="418.8" y="599.8"/><use href="#dt" x="445.2" y="599.8"/><use href="#dt" x="441.5" y="612.5"/><use href="#dt" x="428.4" y="612.4"/><use href="#dt" x="454.8" y="612.9"/><use href="#dt" x="450.8" y="625.6"/><use href="#dt" x="437.7" y="625.1"/><use href="#dt" x="464.2" y="626.9"/><use href="#dt" x="458.8" y="639.4"/><use href="#dt" x="446.1" y="637.6"/>
<path d="M448.6 656.3 451.7 658.9 454.7 661.4 457.7 664.0 460.3 666.4 463.2 669.0 466.5 671.9 470.1 675.0 473.2 677.5 476.4 680.1 480.3 683.0 485.1 686.2 490.8 689.0 496.0 691.0 500.5 692.4 506.0 693.6 511.6 694.4 516.4 694.7 521.8 694.8 527.2 694.5 531.9 693.9 537.5 692.9 542.2 691.7 547.5 689.9 552.0 688.0 557.1 685.4 562.0 682.3 566.0 679.4 569.7 676.4 573.5 672.8 576.8 669.6 579.9 666.3 583.0 662.8 586.8 657.7 589.6 652.7 592.1 646.6 593.6 641.6 594.1 639.8 594.7 635.1 593.6 630.3 590.8 625.9 586.7 622.3 581.6 619.8 576.0 618.7 570.5 619.1 565.6 621.0 561.8 624.1 559.5 628.2 558.4 632.0 557.6 634.7 557.1 636.0 556.1 637.9 555.1 639.2 552.9 641.8 550.5 644.3 548.1 646.7 546.0 648.6 543.6 650.6 541.1 652.4 539.2 653.6 537.2 654.6 534.4 655.8 532.0 656.6 529.0 657.4 526.7 657.8 523.5 658.2 520.9 658.3 518.3 658.3 515.1 658.1 512.8 657.7 510.5 657.2 507.4 656.3 505.1 655.4 503.6 654.7 501.7 653.5 499.2 651.6 496.2 649.2 493.0 646.6 490.6 644.5 487.9 642.1 484.9 639.3 481.5 636.4 478.5 633.8 475.4 631.1 472.4 628.5 470.1 627.8 467.0 628.5 463.2 630.6 459.1 633.8 455.2 637.8 451.8 642.4 449.2 646.9 447.8 650.9 447.6 654.2Z" fill="#5f60c8"/>
<path d="M450.1 654.6 453.1 657.2 456.1 659.8 459.1 662.4 461.8 664.7 464.7 667.4 467.9 670.3 471.5 673.3 474.6 675.8 477.8 678.4 481.6 681.3 486.3 684.3 491.7 687.0 496.6 688.9 501.1 690.2 506.4 691.4 511.8 692.2 516.5 692.6 521.8 692.6 527.0 692.3 531.6 691.7 537.0 690.7 541.6 689.5 546.7 687.8 551.1 686.0 556.0 683.4 560.8 680.5 564.6 677.7 568.3 674.7 572.0 671.3 575.2 668.1 578.3 664.8 581.3 661.4 584.9 656.5 587.7 651.7 590.0 645.9 591.4 641.0 592.0 639.1 592.6 635.0 591.5 630.9 589.1 627.0 585.4 623.8 580.9 621.7 576.0 620.7 571.2 621.0 566.9 622.6 563.6 625.3 561.6 628.9 560.5 632.6 559.7 635.4 559.1 637.1 557.9 639.1 556.8 640.7 554.5 643.3 552.1 645.8 549.6 648.3 547.4 650.2 544.9 652.3 542.3 654.2 540.3 655.5 538.1 656.6 535.1 657.9 532.6 658.7 529.5 659.5 527.0 660.0 523.7 660.3 520.9 660.5 518.2 660.5 514.9 660.3 512.4 659.9 509.9 659.4 506.7 658.4 504.2 657.4 502.5 656.6 500.4 655.3 497.8 653.3 494.8 650.9 491.6 648.4 489.1 646.2 486.4 643.7 483.4 641.0 480.1 638.1 477.0 635.4 474.0 632.8 470.9 630.2 469.1 629.7 466.5 630.4 463.3 632.3 459.8 635.2 456.3 638.8 453.3 642.8 451.0 646.7 449.6 650.2 449.3 652.9Z" fill="#a4c646"/>
<path d="M450.8 653.7 453.9 656.3 456.9 658.9 459.9 661.5 462.6 663.8 465.5 666.5 468.7 669.4 472.2 672.4 475.3 674.9 478.5 677.4 482.3 680.3 486.9 683.2 492.1 685.9 497.0 687.7 501.4 689.1 506.6 690.2 511.9 691.0 516.6 691.4 521.7 691.4 526.9 691.1 531.4 690.5 536.7 689.6 541.3 688.4 546.2 686.7 550.6 684.9 555.4 682.4 560.1 679.5 563.9 676.7 567.5 673.8 571.2 670.4 574.3 667.3 577.4 664.0 580.4 660.6 583.9 655.9 586.6 651.1 588.9 645.5 590.3 640.7 590.9 638.7 591.4 635.0 590.4 631.1 588.2 627.6 584.8 624.6 580.6 622.6 576.1 621.7 571.6 622.0 567.6 623.5 564.6 626.0 562.7 629.3 561.6 632.9 560.8 635.8 560.2 637.6 558.9 639.8 557.7 641.4 555.4 644.1 553.0 646.6 550.4 649.1 548.2 651.2 545.7 653.3 543.0 655.2 540.8 656.5 538.6 657.7 535.6 659.0 533.0 659.9 529.8 660.7 527.2 661.2 523.8 661.5 521.0 661.7 518.1 661.7 514.8 661.5 512.2 661.1 509.6 660.5 506.3 659.5 503.7 658.5 501.9 657.6 499.7 656.2 497.1 654.3 494.0 651.8 490.9 649.3 488.3 647.1 485.6 644.6 482.6 641.9 479.3 639.0 476.3 636.3 473.2 633.7 470.2 631.1 468.5 630.7 466.1 631.4 463.1 633.1 459.9 635.8 456.7 639.1 453.9 642.8 451.8 646.4 450.5 649.6 450.1 652.1Z" fill="none" stroke="#4e6a1c" stroke-width="1.6" stroke-dasharray="1 1.3"/>
<path d="M451.7 652.7 454.7 655.3 457.8 657.9 460.8 660.5 463.5 662.9 466.4 665.5 469.6 668.4 473.1 671.4 476.2 673.9 479.3 676.4 483.0 679.2 487.5 682.1 492.6 684.7 497.4 686.5 501.8 687.8 506.8 689.0 512.0 689.7 516.6 690.1 521.7 690.1 526.7 689.8 531.2 689.3 536.4 688.3 540.9 687.1 545.8 685.5 550.1 683.7 554.8 681.3 559.3 678.5 563.1 675.7 566.6 672.8 570.3 669.5 573.4 666.4 576.4 663.2 579.4 659.8 582.8 655.2 585.5 650.5 587.6 645.0 589.0 640.4 589.6 638.3 590.1 635.0 589.2 631.6 587.0 628.5 583.9 625.9 580.1 624.0 576.0 623.2 571.9 623.4 568.4 624.7 565.6 626.8 564.0 629.7 562.9 633.2 562.0 636.2 561.3 638.2 560.0 640.5 558.7 642.3 556.4 644.9 553.9 647.5 551.4 650.1 549.1 652.1 546.5 654.3 543.8 656.3 541.5 657.7 539.1 658.9 536.0 660.2 533.3 661.1 530.1 662.0 527.4 662.4 524.0 662.8 521.0 663.0 518.0 663.0 514.7 662.8 512.0 662.4 509.2 661.8 505.9 660.8 503.2 659.7 501.2 658.7 499.0 657.3 496.3 655.3 493.2 652.8 490.1 650.3 487.5 648.1 484.7 645.6 481.7 642.8 478.5 639.9 475.4 637.3 472.3 634.7 469.3 632.1 467.9 631.8 465.8 632.5 463.2 634.2 460.3 636.7 457.5 639.8 454.9 643.1 452.9 646.3 451.6 649.2 451.2 651.4Z" fill="#27430f"/>
<path d="M462.2 652.7 465.2 655.3 468.1 657.8 471.0 660.5 474.1 663.3 477.3 666.1 480.4 668.6 483.6 671.1 487.0 673.7 490.9 676.3 495.3 678.4 499.6 680.0 503.7 681.3 508.1 682.3 512.7 683.0 517.0 683.3 521.5 683.3 526.0 683.0 530.3 682.5 534.8 681.7 539.0 680.6 543.3 679.2 547.3 677.5 551.5 675.4 555.4 672.9 558.9 670.3 562.2 667.6 565.5 664.6 568.5 661.6 571.4 658.6 574.2 655.4 577.1 651.5 579.4 647.4 581.2 642.8 581.6 641.7 581.4 641.0 580.7 640.2 579.4 639.3 577.7 638.5 575.7 637.8 573.7 637.3 571.8 637.1 570.2 637.1 569.1 637.3 568.6 637.8 568.5 638.4 567.4 641.3 565.8 644.2 563.9 646.7 561.4 649.5 558.8 652.3 556.1 654.9 553.5 657.3 550.6 659.7 547.7 661.8 544.8 663.6 541.9 665.1 538.5 666.6 535.2 667.6 531.7 668.6 528.3 669.2 524.6 669.6 521.2 669.8 517.7 669.8 514.0 669.5 510.7 669.0 507.3 668.3 503.8 667.2 500.6 666.0 497.8 664.6 495.0 662.8 492.0 660.6 488.9 658.1 485.8 655.6 483.0 653.2 480.1 650.6 477.2 647.9 474.0 645.1 471.0 642.5 470.8 642.7 470.1 643.5 469.2 644.6 467.9 646.0 466.6 647.6 465.2 649.2 464.0 650.6 463.0 651.7 462.4 652.5Z" fill="#42681e" filter="url(#bl)"/>
<path d="M459.7 653.0 471.2 640.3 464.3 657.0 476.0 644.3 468.7 660.9 480.6 648.5 473.2 665.0 484.9 652.4 478.3 669.2 489.4 656.1 483.0 673.1 493.8 659.7 488.6 677.1 498.1 662.7 495.5 680.5 502.3 664.7 502.3 682.8 507.0 666.3 509.0 684.3 512.3 667.4 516.2 685.1 517.2 667.9 523.0 685.1 522.6 667.9 529.7 684.5 527.7 667.5 536.8 683.1 532.8 666.4 543.4 681.1 538.0 664.8 550.1 678.2 542.4 662.8 556.1 674.7 546.9 660.1 561.6 670.6 551.1 656.9 566.7 666.0 555.2 653.2 571.4 661.3 559.1 649.3 575.8 656.3 562.7 645.2 580.0 650.5 565.0 642.1 583.1 643.0 566.9 637.3 584.9 636.6" fill="none" stroke="#b7d855" stroke-width="1.8" stroke-linejoin="round"/>
<ellipse cx="578.3" cy="633.4" rx="4.6" ry="2.4" fill="#e8f4e8" transform="rotate(-5 578.3 633.4)"/>
<g stroke="#8a8a8a" stroke-width="0.9" fill="none"><path d="M381,500 L434,495"/><path d="M573.2,594 L575.4,618.5"/><path d="M511.7,629.5 L511.7,656"/><path d="M380.5,698.5 L451,668.2"/><path d="M584.5,702 L559,680"/></g>
<defs><linearGradient id="sh" x1="0" y1="0.2" x2="1" y2="0.5"><stop offset="0" stop-color="#f4801a"/><stop offset="0.28" stop-color="#f79a2c"/><stop offset="0.5" stop-color="#f2dc62"/><stop offset="0.74" stop-color="#7cc044"/><stop offset="1" stop-color="#2ea244"/></linearGradient><radialGradient id="sun" cx="0.5" cy="1" r="1"><stop offset="0" stop-color="#fbf3a8"/><stop offset="1" stop-color="#e6c23a"/></radialGradient><filter id="eb" x="-5%" y="-5%" width="110%" height="110%"><feGaussianBlur stdDeviation="0.4"/></filter></defs>
<g filter="url(#eb)">
<path d="M564.6,137.0 Q561.2,136.4 555.5,131.8 Q563.4,133.1 565.2,135.1Z M565.4,134.7 Q563.9,132.9 560.2,127.8 Q566.7,130.6 566.7,132.9Z M567.1,132.6 Q564.4,128.6 562.3,122.0 Q568.2,126.8 569.2,131.1Z M569.7,130.8 Q568.8,127.0 568.8,120.9 Q572.6,126.3 572.3,129.8Z M572.9,129.6 Q571.8,123.5 573.9,116.8 Q576.1,123.8 575.9,129.1Z M576.6,129.1 Q576.6,124.2 580.2,119.1 Q580.1,125.4 579.6,129.1Z M580.3,129.1 Q581.1,122.6 586.8,118.0 Q584.5,124.9 583.3,129.6Z M583.9,129.8 Q584.8,125.5 591.0,122.9 Q587.1,128.2 586.5,130.8Z M587.0,131.1 Q589.5,126.3 597.0,125.1 Q591.0,129.8 589.1,132.6Z M589.5,132.9 Q590.9,130.5 597.8,131.1 Q591.3,133.8 590.8,134.7Z M591.0,135.1 Q594.4,133.4 601.5,135.9 Q593.6,137.1 591.6,137.0Z" fill="#d8b236"/>
<path d="M563.5,137.5 A14.6,9.2 0 0 1 592.7,137.5Z" fill="url(#sun)"/>
<path d="M545.3,170.5 L549.2,167.9 L553.1,170.5 L549.2,173.1Z" fill="#c48a30"/><path d="M545.5,166.9 L549.2,164.3 L552.9,166.9 L549.2,169.5Z" fill="#a8721e"/><path d="M545.7,163.3 L549.2,160.7 L552.7,163.3 L549.2,165.9Z" fill="#c48a30"/><path d="M545.8,159.7 L549.2,157.1 L552.6,159.7 L549.2,162.3Z" fill="#a8721e"/><path d="M546.0,156.1 L549.2,153.5 L552.4,156.1 L549.2,158.7Z" fill="#c48a30"/><path d="M546.2,152.5 L549.2,149.9 L552.2,152.5 L549.2,155.1Z" fill="#a8721e"/><path d="M546.4,148.9 L549.2,146.3 L552.0,148.9 L549.2,151.5Z" fill="#c48a30"/><path d="M546.6,145.3 L549.2,142.7 L551.8,145.3 L549.2,147.9Z" fill="#a8721e"/><path d="M546.7,141.7 L549.2,139.1 L551.7,141.7 L549.2,144.3Z" fill="#c48a30"/><path d="M549.2,171 L549.2,144" stroke="#e2b45c" stroke-width="1.1" stroke-dasharray="1.6 2" fill="none"/><path d="M549.2,137.5 Q540.7,136.5 533.8,147.7 Q541.5,144.3 549.2,142.5Z" fill="#156a1e"/><path d="M549.2,137.5 Q541.4,131.7 535.1,137.0 Q542.1,139.8 549.2,142.5Z" fill="#156a1e"/><path d="M549.2,137.5 Q545.1,128.7 541.7,130.2 Q545.5,137.1 549.2,142.5Z" fill="#156a1e"/><path d="M549.2,137.5 Q549.2,128.4 549.2,126.5 Q549.2,136.8 549.2,142.5Z" fill="#156a1e"/><path d="M549.2,137.5 Q553.1,128.5 556.2,129.9 Q552.7,137.0 549.2,142.5Z" fill="#156a1e"/><path d="M549.2,137.5 Q556.8,131.4 563.1,136.5 Q556.1,139.6 549.2,142.5Z" fill="#156a1e"/><path d="M549.2,137.5 Q557.7,136.5 564.6,147.7 Q556.9,144.3 549.2,142.5Z" fill="#156a1e"/><path d="M549.2,137.5 Q544.2,139.3 540.2,150.8 Q544.7,146.8 549.2,142.5Z" fill="#156a1e"/><path d="M549.2,137.5 Q554.2,139.3 558.2,150.8 Q553.7,146.8 549.2,142.5Z" fill="#156a1e"/><ellipse cx="549.2" cy="136" rx="9.5" ry="6.5" fill="#156a1e"/><path d="M543.2,134.5 q5.0,-5 10.0,-1.5" stroke="#2f9038" stroke-width="1.6" fill="none"/>
<path d="M602.7,170.5 L606.6,167.9 L610.5,170.5 L606.6,173.1Z" fill="#c48a30"/><path d="M602.9,166.9 L606.6,164.3 L610.3,166.9 L606.6,169.5Z" fill="#a8721e"/><path d="M603.1,163.3 L606.6,160.7 L610.1,163.3 L606.6,165.9Z" fill="#c48a30"/><path d="M603.2,159.7 L606.6,157.1 L610.0,159.7 L606.6,162.3Z" fill="#a8721e"/><path d="M603.4,156.1 L606.6,153.5 L609.8,156.1 L606.6,158.7Z" fill="#c48a30"/><path d="M603.6,152.5 L606.6,149.9 L609.6,152.5 L606.6,155.1Z" fill="#a8721e"/><path d="M603.8,148.9 L606.6,146.3 L609.4,148.9 L606.6,151.5Z" fill="#c48a30"/><path d="M604.0,145.3 L606.6,142.7 L609.2,145.3 L606.6,147.9Z" fill="#a8721e"/><path d="M604.1,141.7 L606.6,139.1 L609.1,141.7 L606.6,144.3Z" fill="#c48a30"/><path d="M606.6,171 L606.6,144" stroke="#e2b45c" stroke-width="1.1" stroke-dasharray="1.6 2" fill="none"/><path d="M606.6,137.5 Q615.1,136.5 622.0,147.7 Q614.3,144.3 606.6,142.5Z" fill="#156a1e"/><path d="M606.6,137.5 Q614.4,131.7 620.7,137.0 Q613.7,139.8 606.6,142.5Z" fill="#156a1e"/><path d="M606.6,137.5 Q610.7,128.7 614.1,130.2 Q610.4,137.1 606.6,142.5Z" fill="#156a1e"/><path d="M606.6,137.5 Q606.6,128.4 606.6,126.5 Q606.6,136.8 606.6,142.5Z" fill="#156a1e"/><path d="M606.6,137.5 Q602.7,128.5 599.6,129.9 Q603.1,137.0 606.6,142.5Z" fill="#156a1e"/><path d="M606.6,137.5 Q599.0,131.4 592.7,136.5 Q599.7,139.6 606.6,142.5Z" fill="#156a1e"/><path d="M606.6,137.5 Q598.1,136.5 591.2,147.7 Q598.9,144.3 606.6,142.5Z" fill="#156a1e"/><path d="M606.6,137.5 Q611.6,139.3 615.6,150.8 Q611.1,146.8 606.6,142.5Z" fill="#156a1e"/><path d="M606.6,137.5 Q601.6,139.3 597.6,150.8 Q602.1,146.8 606.6,142.5Z" fill="#156a1e"/><ellipse cx="606.6" cy="136" rx="9.5" ry="6.5" fill="#156a1e"/><path d="M612.6,134.5 q-5.0,-5 -10.0,-1.5" stroke="#2f9038" stroke-width="1.6" fill="none"/>
<path d="M557.7,136.3 Q578,134 598.3,136.3 L598.3,168 Q597.5,177.5 578.1,185 Q558.5,177.5 557.7,168Z" fill="url(#sh)" stroke="#e9dca0" stroke-width="0.7"/>
<path d="M565.5,150.5 Q568.5,141.8 578.5,140 Q590,138.5 594.8,148 Q597.5,157 590.5,165 Q585.5,170.5 579.5,168.2 Q576,166.5 577.8,162.2 Q572.5,166.5 569,174 Q566.5,176.5 565,173.5 Q567.5,165.5 564.2,158.5 Q563.2,154 565.5,150.5Z" fill="#fdfdfa" stroke="#8c8c80" stroke-width="0.45"/>
<path d="M576.5,143.5 Q580,140.5 585,142 Q590,141.5 592,146 Q594.5,151 591.5,156 Q589,161.5 584.5,163 Q581,158 579.5,152 Q577,148 576.5,143.5Z" fill="#fff" stroke="#8f8f84" stroke-width="0.45"/>
<path d="M568.8,164.5 Q572.5,170.5 580.5,169.5 Q586,168 587,164.5 Q583,167 579,166.5 Q574.5,171 570,168.5Z" fill="#f1d24e" stroke="#b8a040" stroke-width="0.3"/>
<path d="M566.3,172.5 Q569.5,166 575.5,161.5" fill="none" stroke="#aaa" stroke-width="0.5"/>
<circle cx="568.8" cy="151.3" r="0.8" fill="#333"/>
<path d="M535,168.5 Q534.6,165 537.5,165.8 L567.2,177.6 L565.4,184.4 L537.2,173.2 Q535.2,172 535,168.5Z" fill="#e58a2a" stroke="#9c5410" stroke-width="0.5"/>
<path d="M621.2,168.8 Q621.6,165.4 618.7,166.2 L587,177.6 L588.8,184.4 L619,173.4 Q621,172.2 621.2,168.8Z" fill="#2fa85c" stroke="#176a34" stroke-width="0.5"/>
<path d="M539.5,170.3 L563.5,180.2" stroke="#7c3f0c" stroke-width="2" stroke-dasharray="1.5 1" fill="none"/>
<path d="M593,180.5 L616.5,171" stroke="#0f5c28" stroke-width="2" stroke-dasharray="1.5 1" fill="none"/>
<path d="M561,186.5 Q577,183.8 593.5,186.5 Q595.5,189 593.5,191.2 Q577,193 561,191.2 Q559,189 561,186.5Z" fill="#fbfbf6" stroke="#555" stroke-width="0.6"/>
<path d="M567.5,188.8 H588.5" stroke="#333" stroke-width="2.2" stroke-dasharray="1.5 0.8 1.5 2.4 1.4 0.8 1.4 0.8 1.6 0.8 1.5 0.8" fill="none"/>
</g>
</svg>
<span class="t" style="left:103.5px;top:38.0px;font:italic bold 14.6px/1 'Liberation Serif';color:#000;transform:scaleX(0.9812);-webkit-text-stroke:0.3px #000;">Ministry of National Education, Technical</span>
<span class="t" style="left:124.5px;top:56.5px;font:italic bold 14.6px/1 'Liberation Serif';color:#000;transform:scaleX(0.9852);-webkit-text-stroke:0.3px #000;">Education and Vocational Training</span>
<span class="t" style="left:464.5px;top:43.5px;font:italic bold 16.2px/1 'Liberation Serif';color:#000;transform:scaleX(1.1180);-webkit-text-stroke:0.3px #000;">Republic of Côte d'Ivoire</span>
<span class="t" style="left:467.0px;top:63.3px;font:italic bold 16.2px/1 'Liberation Serif';color:#000;transform:scaleX(1.1149);-webkit-text-stroke:0.3px #000;">Union- Discipline-Labor</span>
<span class="t" style="left:88.0px;top:186.7px;font:normal normal 18.7px/1 'Liberation Serif';color:#000;transform:scaleX(1.1119);">LYCEE MODERNE TECHNIQUE</span>
<span class="t" style="left:161.0px;top:209.4px;font:normal normal 18.7px/1 'Liberation Serif';color:#000;transform:scaleX(1.1071);">DUA KOBENAN</span>
<span class="t" style="left:526.0px;top:194.0px;font:normal bold 18.4px/1 'Liberation Sans';color:#000;transform:scaleX(0.8905);-webkit-text-stroke:0.5px #000;">School</span>
<span class="t" style="left:589.3px;top:194.0px;font:normal bold 18.4px/1 'Liberation Sans';color:#000;transform:scaleX(1.0041);-webkit-text-stroke:0.5px #000;">year</span>
<span class="t" style="left:533.0px;top:221.9px;font:normal normal 13.9px/1 'Liberation Sans';color:#333;transform:scaleX(1.1772);">2019 - 2020</span>
<span class="t" style="left:273.3px;top:263.7px;font:normal normal 23.2px/1 'Liberation Serif';color:#000;transform:scaleX(1.1154);">Characteristics of Ebola</span>
<span class="t" style="left:348.5px;top:316.6px;font:normal normal 27.3px/1 'Liberation Serif';color:#000;transform:scaleX(1.0363);">English oral</span>
<span class="t" style="left:140.2px;top:801.5px;font:normal bold 16.3px/1 'Liberation Serif';color:#000;transform:scaleX(1.1093);-webkit-text-stroke:0.3px #000;">ESSI AFFOUA ADELAIDE</span>
<span class="t" style="left:140.2px;top:823.9px;font:normal bold 16.3px/1 'Liberation Serif';color:#000;transform:scaleX(1.1375);-webkit-text-stroke:0.3px #000;">TANO YAA ADJEWA HELENE</span>
<span class="t" style="left:140.2px;top:846.4px;font:normal bold 16.3px/1 'Liberation Serif';color:#000;transform:scaleX(1.1493);-webkit-text-stroke:0.3px #000;">KOUASSI YAWA ALLA</span>
<span class="t" style="left:140.2px;top:868.7px;font:normal bold 16.3px/1 'Liberation Serif';color:#000;transform:scaleX(1.1074);-webkit-text-stroke:0.3px #000;">KOFFI ABENAN KRA DELPHINE</span>
<span class="t" style="left:509.2px;top:806.2px;font:normal bold 18px/1 'Liberation Serif';color:#000;transform:scaleX(1.1349);-webkit-text-stroke:0.3px #000;">CLASS : 1</span>
<span class="t" style="left:603.3px;top:805.2px;font:normal bold 11.5px/1 'Liberation Serif';color:#000;transform:scaleX(0.9199);-webkit-text-stroke:0.3px #000;">er</span>
<span class="t" style="left:619.0px;top:806.2px;font:normal bold 18px/1 'Liberation Serif';color:#000;transform:scaleX(1.1045);-webkit-text-stroke:0.3px #000;">A1</span>
<span class="t" style="left:507.8px;top:862.7px;font:normal normal 15.2px/1 'Liberation Serif';color:#000;transform:scaleX(1.0704);-webkit-text-stroke:0.3px #000;">PROFESSOR NAME</span>
<span class="t" style="left:508.3px;top:883.4px;font:normal bold 16.8px/1 'Liberation Serif';color:#000;transform:scaleX(1.0857);-webkit-text-stroke:0.3px #000;">Mr : OUATTARA</span>
<span class="t" style="left:92.5px;top:964.7px;font:normal bold 15px/1 'Liberation Serif';color:#111;transform:scaleX(0.9122);">Exposé sur l’Ebola</span>
<span class="t" style="left:364.0px;top:964.7px;font:normal bold 15px/1 'Liberation Serif';color:#111;transform:scaleX(0.9506);">Page 1</span>
<span class="t" style="left:257.5px;top:393.6px;font:normal bold 42px/1 'Liberation Sans';color:#0d0d0d;transform:scaleX(1.0725);-webkit-text-stroke:0.5px #0d0d0d;">Virus Ebola</span>
<span class="t" style="left:435.2px;top:466.6px;font:normal bold 14.3px/1 'Liberation Sans';color:#111;transform:scaleX(1.2165);-webkit-text-stroke:0.3px #000;">Membrane</span>
<span class="t" style="left:435.2px;top:486.7px;font:normal bold 14.3px/1 'Liberation Sans';color:#111;transform:scaleX(1.1994);-webkit-text-stroke:0.3px #000;">lipidique</span>
<span class="t" style="left:514.5px;top:577.7px;font:normal bold 15.4px/1 'Liberation Sans';color:#111;transform:scaleX(1.1455);-webkit-text-stroke:0.3px #000;">Polymérase</span>
<span class="t" style="left:478.5px;top:611.8px;font:normal bold 15.4px/1 'Liberation Sans';color:#111;transform:scaleX(1.1357);-webkit-text-stroke:0.3px #000;">Capside</span>
<span class="t" style="left:340.5px;top:698.0px;font:normal bold 15.3px/1 'Liberation Sans';color:#111;transform:scaleX(1.1278);-webkit-text-stroke:0.3px #000;">Glycoprotéine</span>
<span class="t" style="left:562.5px;top:703.2px;font:normal bold 15.8px/1 'Liberation Sans';color:#111;transform:scaleX(1.0954);-webkit-text-stroke:0.3px #000;">RNA</span>
<span class="t" style="left:154.6px;top:136.4px;font:bold 20px/1 'Liberation Serif';color:#e8743b;transform:scaleX(1.1482)">Est</span>
<span class="t" style="left:186.5px;top:136.4px;font:bold 20px/1 'Liberation Serif';color:#fff;transform:scaleX(1.1482)">ablish</span>
<span class="t" style="left:245.3px;top:136.4px;font:bold 20px/1 'Liberation Serif';color:#1a9a48;transform:scaleX(1.1482)">ment</span>
</div></body></html>
